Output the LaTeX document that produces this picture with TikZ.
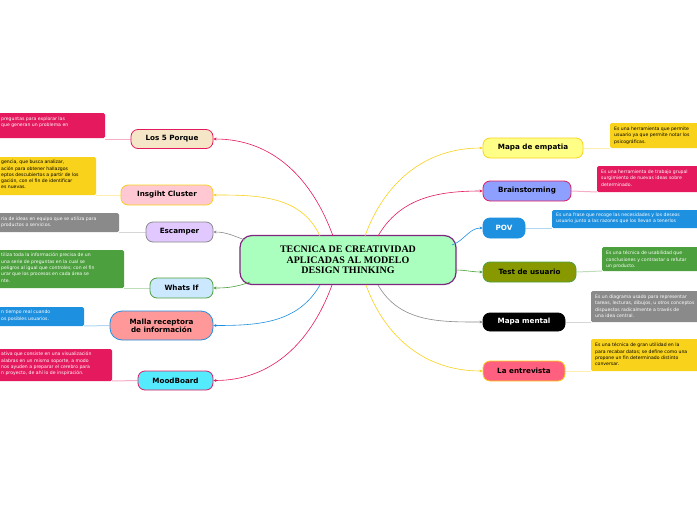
\documentclass[tikz,border=0pt]{standalone}
\usepackage{fontspec}
\setmainfont{DejaVu Sans}
\newfontfamily\titlefont{Liberation Serif}
\usetikzlibrary{arrows.meta}
\definecolor{cpink}{HTML}{E5195E}
\definecolor{cyel}{HTML}{F9D21B}
\definecolor{cgray}{HTML}{8A8A8A}
\definecolor{cgreen}{HTML}{4DA03E}
\definecolor{cblue}{HTML}{1E90E0}
\definecolor{colive}{HTML}{889900}
\tikzset{
 topic/.style={draw, line width=0.8pt, rounded corners=7pt, font=\fontsize{7.2}{8.2}\selectfont\bfseries, align=center, inner sep=0pt},
 desc/.style={rounded corners=1.5pt, inner sep=0pt},
 dtext/.style={anchor=north west, font=\fontsize{4.6}{6.3}\selectfont, align=left, inner sep=0pt},
 conn/.style={line width=0.6pt, -{Stealth[length=3pt,width=3pt]}},
 lnk/.style={line width=1pt, opacity=0.35}
}
\begin{document}
\begin{tikzpicture}[x=1pt,y=-1pt]
\useasboundingbox (0,0) rectangle (697,520);
\fill[white] (0,0) rectangle (697,520);
\begin{scope}
\clip (0,0) rectangle (697,520);
% description boxes left
\fill[cpink,desc] (-5,113) rectangle (105,138);
\node[dtext,text=white] at (1,117) {preguntas para explorar las\\que generan un problema en};
\fill[cyel,desc] (-5,157) rectangle (96,195);
\node[dtext,text=black] at (1,160) {gencia, que busca analizar,\\ación para obtener hallazgos\\eptos descubiertos a partir de los\\gación, con el fin de identificar\\es nuevas.};
\fill[cgray,desc] (-5,213) rectangle (119,232);
\node[dtext,text=white] at (1,217) {ria de ideas en equipo que se utiliza para\\productos o servicios.};
\fill[cgreen,desc] (-5,250) rectangle (124,288);
\node[dtext,text=white] at (1,253) {tiliza toda la información precisa de un\\una serie de preguntas en la cual se\\peligros al igual que controles; con el fin\\urar que los procesos en cada área se\\nte.};
\fill[cblue,desc] (-5,307) rectangle (84,326);
\node[dtext,text=white] at (1,310) {n tiempo real cuando\\os posibles usuarios.};
\fill[cpink,desc] (-5,349) rectangle (112,381);
\node[dtext,text=white] at (1,352) {ativa que consiste en una visualización\\alabras en un mismo soporte, a modo\\nos ayuden a preparar el cerebro para\\n proyecto, de ahí lo de inspiración.};
% right boxes
\fill[cyel,desc] (610,123) rectangle (705,148);
\node[dtext,text=black] at (614,127) {Es una herramienta que permite\\usuario ya que permite notar los\\psicográficas.};
\fill[cpink,desc] (597,166) rectangle (705,192);
\node[dtext,text=white] at (601,170) {Es una herramienta de trabajo grupal\\surgimiento de nuevas ideas sobre\\determinado.};
\fill[cblue,desc] (552,210) rectangle (705,228);
\node[dtext,text=white] at (556,213) {Es una frase que recoge las necesidades y los deseos\\usuario junto a las razones que los llevan a tenerlos};
\fill[cgreen,desc] (602,247) rectangle (705,271);
\node[dtext,text=white] at (606,251) {Es una técnica de usabilidad que\\conclusiones y contrastar o refutar\\un producto.};
\fill[cgray,desc] (591,291) rectangle (705,322);
\node[dtext,text=white] at (595,295) {Es un diagrama usado para representar\\tareas, lecturas, dibujos, u otros conceptos\\dispuestos radicalmente a través de\\una idea central.};
\fill[cyel,desc] (591,339) rectangle (705,371);
\node[dtext,text=black] at (595,343) {Es una técnica de gran utilidad en la\\para recabar datos; se define como una\\propone un fin determinado distinto\\conversar.};
\end{scope}
% central
\node[draw=violet!70!gray, line width=1.2pt, fill={rgb,255:red,170;green,255;blue,190}, rounded corners=12pt, minimum width=216pt, minimum height=49pt, align=center, font=\titlefont\bfseries\fontsize{10}{10.5}\selectfont] (c) at (348,260) {TECNICA DE CREATIVIDAD\\APLICADAS AL MODELO\\DESIGN THINKING};
% left topics
\node[topic, fill={rgb,255:red,245;green,230;blue,200}, draw=cpink, minimum width=82pt, minimum height=19pt] (a1) at (172,139) {Los 5 Porque};
\node[topic, fill={rgb,255:red,255;green,200;blue,210}, draw=cyel, minimum width=92pt, minimum height=20pt] (a2) at (167,195) {Insgiht Cluster};
\node[topic, fill={rgb,255:red,225;green,200;blue,255}, draw=cgray, minimum width=67pt, minimum height=20pt] (a3) at (179.5,232) {Escamper};
\node[topic, fill={rgb,255:red,204;green,232;blue,255}, draw=cgreen, minimum width=63pt, minimum height=20pt] (a4) at (181.5,288) {Whats If};
\node[topic, fill={rgb,255:red,255;green,153;blue,153}, draw=cblue, minimum width=103pt, minimum height=29pt, rounded corners=12pt] (a5) at (161.5,325.5) {Malla receptora\\de información};
\node[topic, fill={rgb,255:red,85;green,235;blue,255}, draw=cpink, minimum width=75pt, minimum height=19pt] (a6) at (175.5,380.5) {MoodBoard};
% right topics
\node[topic, fill={rgb,255:red,255;green,255;blue,136}, draw=cyel, minimum width=100pt, minimum height=20pt] (b1) at (533,148) {Mapa de empatia};
\node[topic, fill={rgb,255:red,142;green,160;blue,255}, draw=cpink, minimum width=88pt, minimum height=20pt] (b2) at (527,191) {Brainstorming};
\node[topic, fill=cblue, draw=cblue, text=white, minimum width=42pt, minimum height=20pt] (b3) at (504,228) {POV};
\node[topic, fill=colive, draw=cgreen, minimum width=93pt, minimum height=20pt] (b4) at (529.5,272) {Test de usuario};
\node[topic, fill=black, draw=black, text=white, minimum width=82pt, minimum height=18pt] (b5) at (524,322) {Mapa mental};
\node[topic, fill={rgb,255:red,255;green,96;blue,128}, draw=cyel, minimum width=82pt, minimum height=20pt] (b6) at (524,371) {La entrevista};
% links to descriptions
\coordinate (d1) at (105,139); \coordinate (d2) at (96,195); \coordinate (d3) at (119,232);
\coordinate (d4) at (124,288); \coordinate (d5) at (84,326); \coordinate (d6) at (112,381);
\coordinate (e1) at (610,148); \coordinate (e2) at (597,192); \coordinate (e3) at (552,228);
\coordinate (e4) at (602,271); \coordinate (e5) at (591,322); \coordinate (e6) at (591,371);
\draw[lnk,cpink] (a1.west) -- (d1); \draw[lnk,cyel] (a2.west) -- (d2); \draw[lnk,cgray] (a3.west) -- (d3);
\draw[lnk,cgreen] (a4.west) -- (d4); \draw[lnk,cblue] (a5.west) -- (d5); \draw[lnk,cpink] (a6.west) -- (d6);
\draw[lnk,cyel] (b1.east) -- (e1); \draw[lnk,cpink] (b2.east) -- (e2); \draw[lnk,cblue] (b3.east) -- (e3);
\draw[lnk,cgreen] (b4.east) -- (e4); \draw[lnk,cgray] (b5.east) -- (e5); \draw[lnk,cyel] (b6.east) -- (e6);
% connectors
\coordinate (s1) at (333,236); \coordinate (s2) at (320,236); \coordinate (s3) at (245,240);
\coordinate (s4) at (250,282); \coordinate (s5) at (320,285); \coordinate (s6) at (332,285);
\coordinate (t1) at (365,236); \coordinate (t2) at (378,236); \coordinate (t3) at (452,245);
\coordinate (t4) at (455,270); \coordinate (t5) at (378,285); \coordinate (t6) at (366,285);
\draw[conn,cpink] (s1) to[out=110,in=0] (a1.east);
\draw[conn,cyel] (s2) to[out=115,in=0] (a2.east);
\draw[conn,cgray] (s3) to[out=160,in=0] (a3.east);
\draw[conn,cgreen] (s4) to[out=200,in=0] (a4.east);
\draw[conn,cblue] (s5) to[out=240,in=0] (a5.east);
\draw[conn,cpink] (s6) to[out=250,in=0] (a6.east);
\draw[conn,cyel] (t1) to[out=70,in=180] (b1.west);
\draw[conn,cpink] (t2) to[out=60,in=180] (b2.west);
\draw[conn,cblue] (t3) to[out=20,in=180] (b3.west);
\draw[conn,cgreen] (t4) to[out=0,in=180] (b4.west);
\draw[conn,cgray] (t5) to[out=-60,in=180] (b5.west);
\draw[conn,cyel] (t6) to[out=-70,in=180] (b6.west);
\end{tikzpicture}
\end{document}
